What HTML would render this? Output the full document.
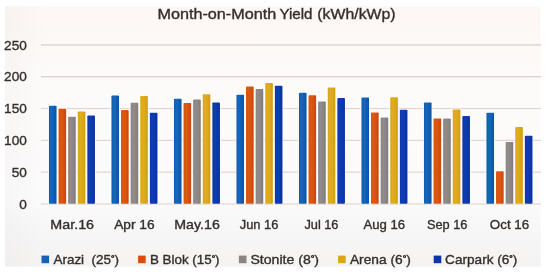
<!DOCTYPE html>
<html><head><meta charset="utf-8"><title>Month-on-Month Yield</title>
<style>html,body{margin:0;padding:0;background:#fff;}body{width:550px;height:274px;overflow:hidden}svg text{font-family:"Liberation Sans",sans-serif;white-space:pre;}</style>
</head><body>
<svg width="550" height="274" viewBox="0 0 550 274" style="display:block">
<defs><linearGradient id="bg" x1="0" y1="0" x2="0" y2="1"><stop offset="0" stop-color="#fdf7f5"/><stop offset="0.15" stop-color="#fcf9f7"/><stop offset="0.3" stop-color="#fdfbfa"/><stop offset="0.75" stop-color="#fcfbfb"/><stop offset="0.85" stop-color="#f8f7f7"/><stop offset="1" stop-color="#f4f3f2"/></linearGradient>
<linearGradient id="g0" x1="0" y1="0" x2="1" y2="0"><stop offset="0" stop-color="#0f5eb2"/><stop offset="0.35" stop-color="#1566ba"/><stop offset="0.7" stop-color="#0f5eb2"/><stop offset="1" stop-color="#0b52a4"/></linearGradient>
<linearGradient id="g1" x1="0" y1="0" x2="1" y2="0"><stop offset="0" stop-color="#d6500c"/><stop offset="0.35" stop-color="#dc5a14"/><stop offset="0.7" stop-color="#d6500c"/><stop offset="1" stop-color="#c84806"/></linearGradient>
<linearGradient id="g2" x1="0" y1="0" x2="1" y2="0"><stop offset="0" stop-color="#8b8484"/><stop offset="0.35" stop-color="#928b8b"/><stop offset="0.7" stop-color="#8b8484"/><stop offset="1" stop-color="#807a7a"/></linearGradient>
<linearGradient id="g3" x1="0" y1="0" x2="1" y2="0"><stop offset="0" stop-color="#dba618"/><stop offset="0.35" stop-color="#e0ad20"/><stop offset="0.7" stop-color="#dba618"/><stop offset="1" stop-color="#cf9c12"/></linearGradient>
<linearGradient id="g4" x1="0" y1="0" x2="1" y2="0"><stop offset="0" stop-color="#0a37ac"/><stop offset="0.35" stop-color="#0f3cb4"/><stop offset="0.7" stop-color="#0a37ac"/><stop offset="1" stop-color="#07309e"/></linearGradient>
<linearGradient id="le" x1="0" y1="0" x2="1" y2="0"><stop offset="0" stop-color="#8a8080" stop-opacity="0.04"/><stop offset="1" stop-color="#8a8080" stop-opacity="0"/></linearGradient>
<filter id="bl" x="-5%" y="-5%" width="110%" height="110%"><feGaussianBlur stdDeviation="0.55"/></filter></defs>
<rect width="550" height="274" fill="#fff"/>
<g filter="url(#bl)">
<rect x="5" y="6.2" width="535.8" height="260.4" fill="url(#bg)"/>
<rect x="5" y="6.2" width="40" height="260.4" fill="url(#le)"/>
<rect x="41.0" y="203.45" width="500.0" height="1.1" fill="#e3d2cd"/>
<rect x="41.0" y="171.63" width="500.0" height="1.1" fill="#e3d2cd"/>
<rect x="41.0" y="139.81" width="500.0" height="1.1" fill="#e3d2cd"/>
<rect x="41.0" y="107.99" width="500.0" height="1.1" fill="#e3d2cd"/>
<rect x="41.0" y="76.07" width="500.0" height="1.3" fill="#d8cfcc"/>
<rect x="41.0" y="44.25" width="500.0" height="1.3" fill="#d8cfcc"/>
<rect x="48.05" y="104.90" width="9.4" height="98.60" fill="#fff" opacity="0.75"/>
<rect x="48.95" y="105.80" width="7.6" height="98.00" rx="0.8" fill="url(#g0)"/>
<rect x="57.65" y="107.90" width="9.4" height="95.60" fill="#fff" opacity="0.75"/>
<rect x="58.55" y="108.80" width="7.6" height="95.00" rx="0.8" fill="url(#g1)"/>
<rect x="67.25" y="115.90" width="9.4" height="87.60" fill="#fff" opacity="0.75"/>
<rect x="68.15" y="116.80" width="7.6" height="87.00" rx="0.8" fill="url(#g2)"/>
<rect x="76.85" y="110.50" width="9.4" height="93.00" fill="#fff" opacity="0.75"/>
<rect x="77.75" y="111.40" width="7.6" height="92.40" rx="0.8" fill="url(#g3)"/>
<rect x="86.45" y="114.60" width="9.4" height="88.90" fill="#fff" opacity="0.75"/>
<rect x="87.35" y="115.50" width="7.6" height="88.30" rx="0.8" fill="url(#g4)"/>
<rect x="110.55" y="94.60" width="9.4" height="108.90" fill="#fff" opacity="0.75"/>
<rect x="111.45" y="95.50" width="7.6" height="108.30" rx="0.8" fill="url(#g0)"/>
<rect x="120.15" y="109.20" width="9.4" height="94.30" fill="#fff" opacity="0.75"/>
<rect x="121.05" y="110.10" width="7.6" height="93.70" rx="0.8" fill="url(#g1)"/>
<rect x="129.75" y="101.80" width="9.4" height="101.70" fill="#fff" opacity="0.75"/>
<rect x="130.65" y="102.70" width="7.6" height="101.10" rx="0.8" fill="url(#g2)"/>
<rect x="139.35" y="95.10" width="9.4" height="108.40" fill="#fff" opacity="0.75"/>
<rect x="140.25" y="96.00" width="7.6" height="107.80" rx="0.8" fill="url(#g3)"/>
<rect x="148.95" y="111.80" width="9.4" height="91.70" fill="#fff" opacity="0.75"/>
<rect x="149.85" y="112.70" width="7.6" height="91.10" rx="0.8" fill="url(#g4)"/>
<rect x="173.05" y="97.90" width="9.4" height="105.60" fill="#fff" opacity="0.75"/>
<rect x="173.95" y="98.80" width="7.6" height="105.00" rx="0.8" fill="url(#g0)"/>
<rect x="182.65" y="102.00" width="9.4" height="101.50" fill="#fff" opacity="0.75"/>
<rect x="183.55" y="102.90" width="7.6" height="100.90" rx="0.8" fill="url(#g1)"/>
<rect x="192.25" y="98.70" width="9.4" height="104.80" fill="#fff" opacity="0.75"/>
<rect x="193.15" y="99.60" width="7.6" height="104.20" rx="0.8" fill="url(#g2)"/>
<rect x="201.85" y="93.30" width="9.4" height="110.20" fill="#fff" opacity="0.75"/>
<rect x="202.75" y="94.20" width="7.6" height="109.60" rx="0.8" fill="url(#g3)"/>
<rect x="211.45" y="101.50" width="9.4" height="102.00" fill="#fff" opacity="0.75"/>
<rect x="212.35" y="102.40" width="7.6" height="101.40" rx="0.8" fill="url(#g4)"/>
<rect x="235.55" y="93.80" width="9.4" height="109.70" fill="#fff" opacity="0.75"/>
<rect x="236.45" y="94.70" width="7.6" height="109.10" rx="0.8" fill="url(#g0)"/>
<rect x="245.15" y="85.70" width="9.4" height="117.80" fill="#fff" opacity="0.75"/>
<rect x="246.05" y="86.60" width="7.6" height="117.20" rx="0.8" fill="url(#g1)"/>
<rect x="254.75" y="88.00" width="9.4" height="115.50" fill="#fff" opacity="0.75"/>
<rect x="255.65" y="88.90" width="7.6" height="114.90" rx="0.8" fill="url(#g2)"/>
<rect x="264.35" y="82.10" width="9.4" height="121.40" fill="#fff" opacity="0.75"/>
<rect x="265.25" y="83.00" width="7.6" height="120.80" rx="0.8" fill="url(#g3)"/>
<rect x="273.95" y="84.90" width="9.4" height="118.60" fill="#fff" opacity="0.75"/>
<rect x="274.85" y="85.80" width="7.6" height="118.00" rx="0.8" fill="url(#g4)"/>
<rect x="298.05" y="91.80" width="9.4" height="111.70" fill="#fff" opacity="0.75"/>
<rect x="298.95" y="92.70" width="7.6" height="111.10" rx="0.8" fill="url(#g0)"/>
<rect x="307.65" y="94.40" width="9.4" height="109.10" fill="#fff" opacity="0.75"/>
<rect x="308.55" y="95.30" width="7.6" height="108.50" rx="0.8" fill="url(#g1)"/>
<rect x="317.25" y="100.50" width="9.4" height="103.00" fill="#fff" opacity="0.75"/>
<rect x="318.15" y="101.40" width="7.6" height="102.40" rx="0.8" fill="url(#g2)"/>
<rect x="326.85" y="86.70" width="9.4" height="116.80" fill="#fff" opacity="0.75"/>
<rect x="327.75" y="87.60" width="7.6" height="116.20" rx="0.8" fill="url(#g3)"/>
<rect x="336.45" y="97.20" width="9.4" height="106.30" fill="#fff" opacity="0.75"/>
<rect x="337.35" y="98.10" width="7.6" height="105.70" rx="0.8" fill="url(#g4)"/>
<rect x="360.55" y="96.70" width="9.4" height="106.80" fill="#fff" opacity="0.75"/>
<rect x="361.45" y="97.60" width="7.6" height="106.20" rx="0.8" fill="url(#g0)"/>
<rect x="370.15" y="111.50" width="9.4" height="92.00" fill="#fff" opacity="0.75"/>
<rect x="371.05" y="112.40" width="7.6" height="91.40" rx="0.8" fill="url(#g1)"/>
<rect x="379.75" y="116.60" width="9.4" height="86.90" fill="#fff" opacity="0.75"/>
<rect x="380.65" y="117.50" width="7.6" height="86.30" rx="0.8" fill="url(#g2)"/>
<rect x="389.35" y="96.40" width="9.4" height="107.10" fill="#fff" opacity="0.75"/>
<rect x="390.25" y="97.30" width="7.6" height="106.50" rx="0.8" fill="url(#g3)"/>
<rect x="398.95" y="108.90" width="9.4" height="94.60" fill="#fff" opacity="0.75"/>
<rect x="399.85" y="109.80" width="7.6" height="94.00" rx="0.8" fill="url(#g4)"/>
<rect x="423.05" y="101.50" width="9.4" height="102.00" fill="#fff" opacity="0.75"/>
<rect x="423.95" y="102.40" width="7.6" height="101.40" rx="0.8" fill="url(#g0)"/>
<rect x="432.65" y="117.50" width="9.4" height="86.00" fill="#fff" opacity="0.75"/>
<rect x="433.55" y="118.40" width="7.6" height="85.40" rx="0.8" fill="url(#g1)"/>
<rect x="442.25" y="117.50" width="9.4" height="86.00" fill="#fff" opacity="0.75"/>
<rect x="443.15" y="118.40" width="7.6" height="85.40" rx="0.8" fill="url(#g2)"/>
<rect x="451.85" y="108.60" width="9.4" height="94.90" fill="#fff" opacity="0.75"/>
<rect x="452.75" y="109.50" width="7.6" height="94.30" rx="0.8" fill="url(#g3)"/>
<rect x="461.45" y="115.20" width="9.4" height="88.30" fill="#fff" opacity="0.75"/>
<rect x="462.35" y="116.10" width="7.6" height="87.70" rx="0.8" fill="url(#g4)"/>
<rect x="485.55" y="111.90" width="9.4" height="91.60" fill="#fff" opacity="0.75"/>
<rect x="486.45" y="112.80" width="7.6" height="91.00" rx="0.8" fill="url(#g0)"/>
<rect x="495.15" y="170.30" width="9.4" height="33.20" fill="#fff" opacity="0.75"/>
<rect x="496.05" y="171.20" width="7.6" height="32.60" rx="0.8" fill="url(#g1)"/>
<rect x="504.75" y="141.20" width="9.4" height="62.30" fill="#fff" opacity="0.75"/>
<rect x="505.65" y="142.10" width="7.6" height="61.70" rx="0.8" fill="url(#g2)"/>
<rect x="514.35" y="126.20" width="9.4" height="77.30" fill="#fff" opacity="0.75"/>
<rect x="515.25" y="127.10" width="7.6" height="76.70" rx="0.8" fill="url(#g3)"/>
<rect x="523.95" y="134.90" width="9.4" height="68.60" fill="#fff" opacity="0.75"/>
<rect x="524.85" y="135.80" width="7.6" height="68.00" rx="0.8" fill="url(#g4)"/>
<text x="26.8" y="208.70" font-size="13.6" text-anchor="end" fill="#332e2b" stroke="#332e2b" stroke-width="0.35">0</text>
<text x="26.8" y="176.88" font-size="13.6" text-anchor="end" fill="#332e2b" stroke="#332e2b" stroke-width="0.35">50</text>
<text x="26.8" y="145.06" font-size="13.6" text-anchor="end" fill="#332e2b" stroke="#332e2b" stroke-width="0.35">100</text>
<text x="26.8" y="113.24" font-size="13.6" text-anchor="end" fill="#332e2b" stroke="#332e2b" stroke-width="0.35">150</text>
<text x="26.8" y="81.42" font-size="13.6" text-anchor="end" fill="#332e2b" stroke="#332e2b" stroke-width="0.35">200</text>
<text x="26.8" y="49.60" font-size="13.6" text-anchor="end" fill="#332e2b" stroke="#332e2b" stroke-width="0.35">250</text>
<text x="50.3" y="229.4" font-size="13.2" textLength="43.8" lengthAdjust="spacingAndGlyphs" fill="#332e2b" stroke="#332e2b" stroke-width="0.35">Mar.16</text>
<text x="114.2" y="229.4" font-size="13.2" textLength="40.4" lengthAdjust="spacingAndGlyphs" fill="#332e2b" stroke="#332e2b" stroke-width="0.35">Apr 16</text>
<text x="174.3" y="229.4" font-size="13.2" textLength="45.5" lengthAdjust="spacingAndGlyphs" fill="#332e2b" stroke="#332e2b" stroke-width="0.35">May.16</text>
<text x="239.7" y="229.4" font-size="13.2" textLength="38.7" lengthAdjust="spacingAndGlyphs" fill="#332e2b" stroke="#332e2b" stroke-width="0.35">Jun 16</text>
<text x="304.4" y="229.4" font-size="13.2" textLength="34.1" lengthAdjust="spacingAndGlyphs" fill="#332e2b" stroke="#332e2b" stroke-width="0.35">Jul 16</text>
<text x="363.4" y="229.4" font-size="13.2" textLength="41.7" lengthAdjust="spacingAndGlyphs" fill="#332e2b" stroke="#332e2b" stroke-width="0.35">Aug 16</text>
<text x="426.9" y="229.4" font-size="13.2" textLength="40.5" lengthAdjust="spacingAndGlyphs" fill="#332e2b" stroke="#332e2b" stroke-width="0.35">Sep 16</text>
<text x="489.8" y="229.4" font-size="13.2" textLength="39.4" lengthAdjust="spacingAndGlyphs" fill="#332e2b" stroke="#332e2b" stroke-width="0.35">Oct 16</text>
<text x="157.4" y="19.2" font-size="14.7" textLength="118.9" lengthAdjust="spacingAndGlyphs" fill="#332e2b" stroke="#332e2b" stroke-width="0.35">Month-on-Month</text>
<text x="279.4" y="19.2" font-size="14.7" textLength="33.0" lengthAdjust="spacingAndGlyphs" fill="#332e2b" stroke="#332e2b" stroke-width="0.35">Yield</text>
<text x="317.3" y="19.2" font-size="14.7" textLength="78.3" lengthAdjust="spacingAndGlyphs" fill="#332e2b" stroke="#332e2b" stroke-width="0.35">(kWh/kWp)</text>
<rect x="41.5" y="255.6" width="7.6" height="7.6" fill="#1763b2"/>
<text x="53.4" y="264.0" font-size="13.2" textLength="65.7" lengthAdjust="spacingAndGlyphs" fill="#332e2b" stroke="#332e2b" stroke-width="0.35" xml:space="preserve">Arazi  (25<tspan font-size="8.5" dy="-1.6" stroke-width="0.7">°</tspan><tspan dy="1.6">)</tspan></text>
<rect x="138.1" y="255.6" width="7.6" height="7.6" fill="#d6500c"/>
<text x="149.9" y="264.0" font-size="13.2" textLength="69.7" lengthAdjust="spacingAndGlyphs" fill="#332e2b" stroke="#332e2b" stroke-width="0.35" xml:space="preserve">B Blok (15<tspan font-size="8.5" dy="-1.6" stroke-width="0.7">°</tspan><tspan dy="1.6">)</tspan></text>
<rect x="238.9" y="255.6" width="7.6" height="7.6" fill="#8b8484"/>
<text x="250.4" y="264.0" font-size="13.2" textLength="68.7" lengthAdjust="spacingAndGlyphs" fill="#332e2b" stroke="#332e2b" stroke-width="0.35" xml:space="preserve">Stonite (8<tspan font-size="8.5" dy="-1.6" stroke-width="0.7">°</tspan><tspan dy="1.6">)</tspan></text>
<rect x="338.1" y="255.6" width="7.6" height="7.6" fill="#dba618"/>
<text x="349.9" y="264.0" font-size="13.2" textLength="61.0" lengthAdjust="spacingAndGlyphs" fill="#332e2b" stroke="#332e2b" stroke-width="0.35" xml:space="preserve">Arena (6<tspan font-size="8.5" dy="-1.6" stroke-width="0.7">°</tspan><tspan dy="1.6">)</tspan></text>
<rect x="433.7" y="255.6" width="7.6" height="7.6" fill="#0b36a8"/>
<text x="445.1" y="264.0" font-size="13.2" textLength="72.3" lengthAdjust="spacingAndGlyphs" fill="#332e2b" stroke="#332e2b" stroke-width="0.35" xml:space="preserve">Carpark (6<tspan font-size="8.5" dy="-1.6" stroke-width="0.7">°</tspan><tspan dy="1.6">)</tspan></text>
</g></svg>
</body></html>
